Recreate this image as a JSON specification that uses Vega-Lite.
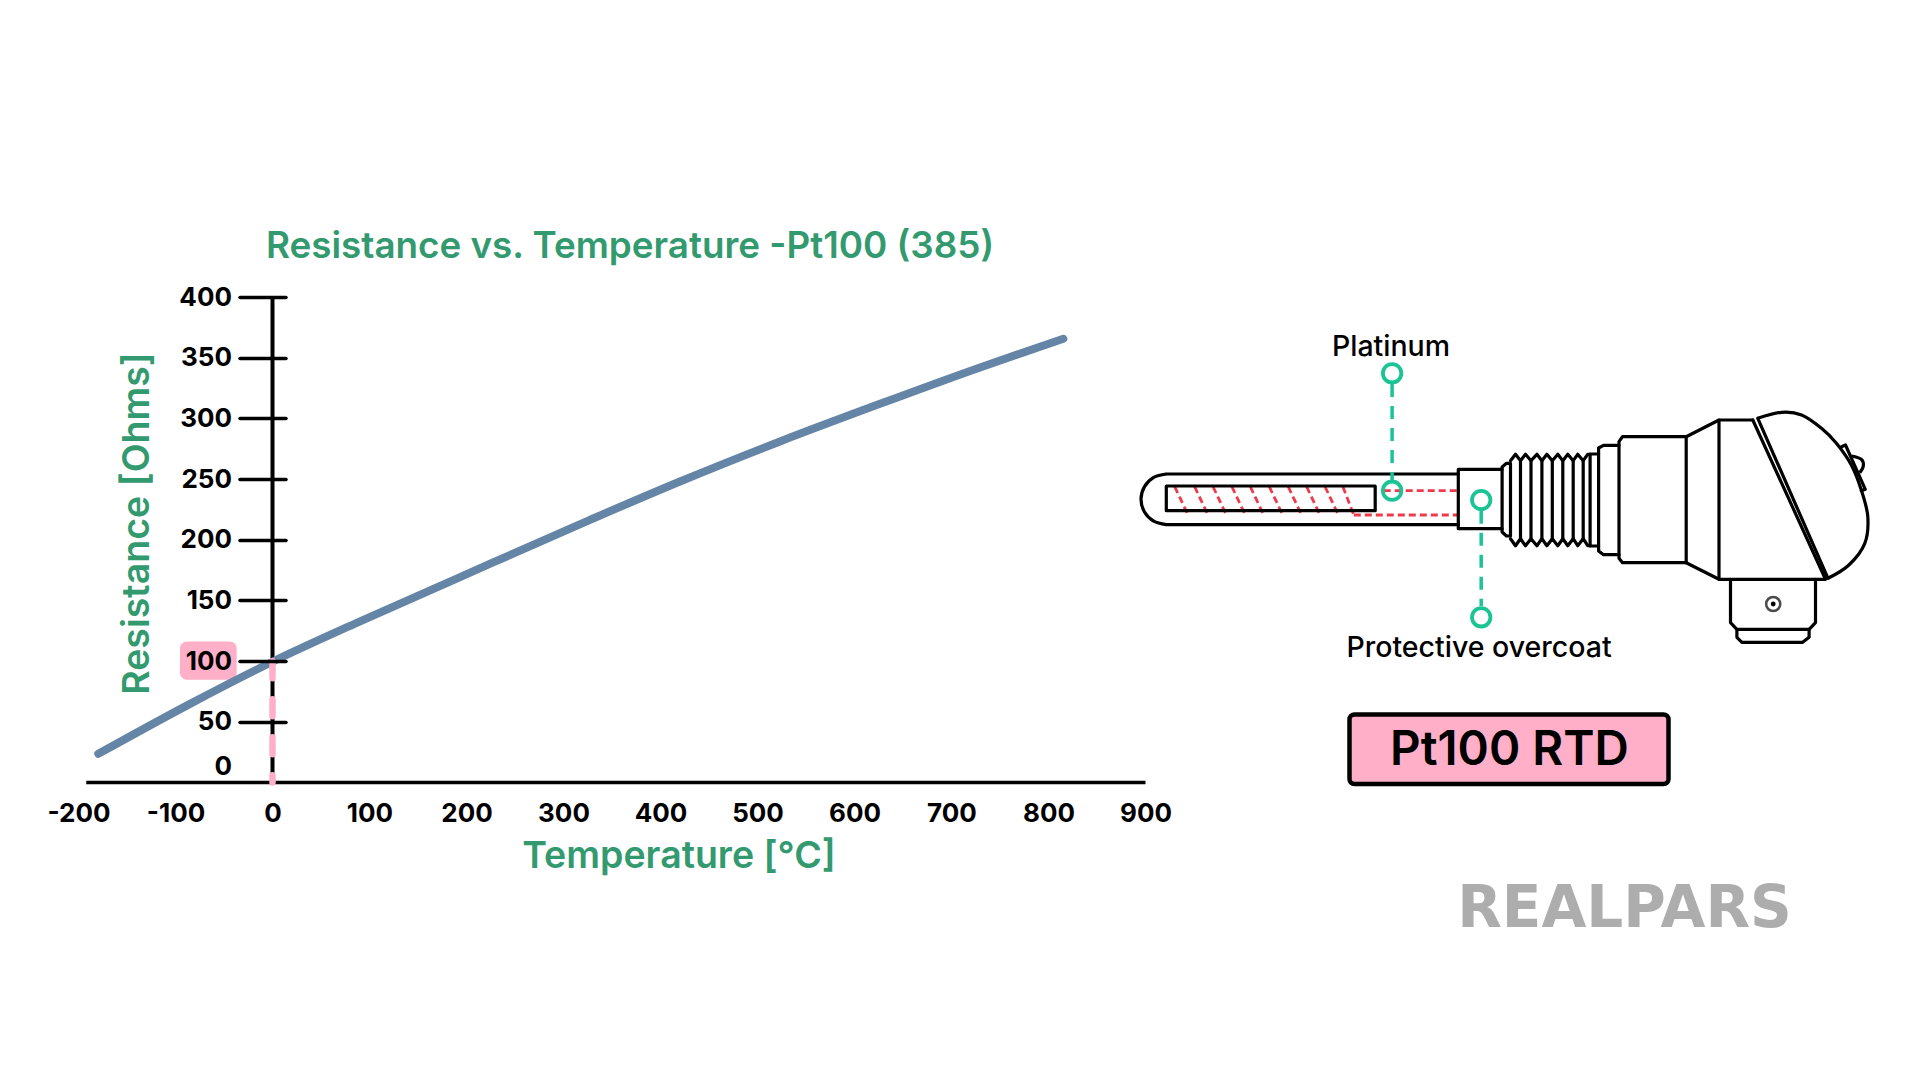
{
  "$schema": "https://vega.github.io/schema/vega-lite/v6.json",
  "autosize": {"type": "none"},
  "padding": {"left": 78.5, "top": 297, "right": 1841.5, "bottom": 783},
  "background": "white",
  "bounds": "flush",
  "spacing": 0,
  "config": {"view": {"stroke": null}, "font": "Inter"},
  "datasets": {
    "curve": [
      {"temperature": -179.6, "resistance": 23.6},
      {"temperature": -85, "resistance": 64.8},
      {"temperature": 0, "resistance": 99.5},
      {"temperature": 86.8, "resistance": 131.5},
      {"temperature": 189.9, "resistance": 168},
      {"temperature": 327.3, "resistance": 216.4},
      {"temperature": 420.1, "resistance": 248},
      {"temperature": 523.2, "resistance": 281},
      {"temperature": 626.3, "resistance": 312},
      {"temperature": 729.4, "resistance": 342},
      {"temperature": 815.3, "resistance": 365.6}
    ],
    "outline": [
      {"part": "sheathTop", "x": 312.8, "y": 177}, {"part": "sheathTop", "x": 20.8, "y": 177},
      {"part": "sheathBottom", "x": 20.8, "y": 227.7}, {"part": "sheathBottom", "x": 312.8, "y": 227.7},
      {"part": "element", "x": 20.8, "y": 189}, {"part": "element", "x": 229.7, "y": 189}, {"part": "element", "x": 229.7, "y": 213.7}, {"part": "element", "x": 20.8, "y": 213.7}, {"part": "element", "x": 20.8, "y": 189},
      {"part": "collar", "x": 312.8, "y": 172.3}, {"part": "collar", "x": 356.6, "y": 172.3}, {"part": "collar", "x": 356.6, "y": 231.7}, {"part": "collar", "x": 312.8, "y": 231.7}, {"part": "collar", "x": 312.8, "y": 172.3},
      {"part": "step", "x": 356.6, "y": 172.3}, {"part": "step", "x": 356.6, "y": 170}, {"part": "step", "x": 361, "y": 166.3}, {"part": "step", "x": 365, "y": 166.3}, {"part": "step", "x": 365, "y": 239}, {"part": "step", "x": 361, "y": 239}, {"part": "step", "x": 356.6, "y": 235}, {"part": "step", "x": 356.6, "y": 231.7},
      {"part": "threadTop", "x": 365, "y": 163.7}, {"part": "threadTop", "x": 370, "y": 157.3}, {"part": "threadTop", "x": 375, "y": 163.7}, {"part": "threadTop", "x": 380, "y": 157.3}, {"part": "threadTop", "x": 385.5, "y": 163.7}, {"part": "threadTop", "x": 391.4, "y": 157.3}, {"part": "threadTop", "x": 396.4, "y": 163.7}, {"part": "threadTop", "x": 401.4, "y": 157.3}, {"part": "threadTop", "x": 406.8, "y": 163.7}, {"part": "threadTop", "x": 412.3, "y": 157.3}, {"part": "threadTop", "x": 417.3, "y": 163.7}, {"part": "threadTop", "x": 422.3, "y": 157.3}, {"part": "threadTop", "x": 427.7, "y": 163.7}, {"part": "threadTop", "x": 432.2, "y": 157.3}, {"part": "threadTop", "x": 437.7, "y": 163.7}, {"part": "threadTop", "x": 442.2, "y": 157.3}, {"part": "threadTop", "x": 444.6, "y": 157.3},
      {"part": "threadBottom", "x": 365, "y": 241.7}, {"part": "threadBottom", "x": 370, "y": 248.7}, {"part": "threadBottom", "x": 375, "y": 241.7}, {"part": "threadBottom", "x": 380, "y": 248.7}, {"part": "threadBottom", "x": 385.5, "y": 241.7}, {"part": "threadBottom", "x": 391.4, "y": 248.7}, {"part": "threadBottom", "x": 396.4, "y": 241.7}, {"part": "threadBottom", "x": 401.4, "y": 248.7}, {"part": "threadBottom", "x": 406.8, "y": 241.7}, {"part": "threadBottom", "x": 412.3, "y": 248.7}, {"part": "threadBottom", "x": 417.3, "y": 241.7}, {"part": "threadBottom", "x": 422.3, "y": 248.7}, {"part": "threadBottom", "x": 427.7, "y": 241.7}, {"part": "threadBottom", "x": 432.2, "y": 248.7}, {"part": "threadBottom", "x": 437.7, "y": 241.7}, {"part": "threadBottom", "x": 442.2, "y": 248.7}, {"part": "threadBottom", "x": 444.6, "y": 248.7},
      {"part": "v1", "x": 375, "y": 163.7}, {"part": "v1", "x": 375, "y": 241.7},
      {"part": "v2", "x": 385.5, "y": 163.7}, {"part": "v2", "x": 385.5, "y": 241.7},
      {"part": "v3", "x": 396.4, "y": 163.7}, {"part": "v3", "x": 396.4, "y": 241.7},
      {"part": "v4", "x": 406.8, "y": 163.7}, {"part": "v4", "x": 406.8, "y": 241.7},
      {"part": "v5", "x": 417.3, "y": 163.7}, {"part": "v5", "x": 417.3, "y": 241.7},
      {"part": "v6", "x": 427.7, "y": 163.7}, {"part": "v6", "x": 427.7, "y": 241.7},
      {"part": "v7", "x": 437.7, "y": 163.7}, {"part": "v7", "x": 437.7, "y": 241.7},
      {"part": "nut", "x": 444.6, "y": 157}, {"part": "nut", "x": 453.1, "y": 157}, {"part": "nut", "x": 453.1, "y": 249}, {"part": "nut", "x": 444.6, "y": 249}, {"part": "nut", "x": 444.6, "y": 157},
      {"part": "neckTop", "x": 453.1, "y": 157}, {"part": "neckTop", "x": 453.1, "y": 151}, {"part": "neckTop", "x": 458, "y": 148.3}, {"part": "neckTop", "x": 473.5, "y": 148.3},
      {"part": "neckBottom", "x": 453.1, "y": 249}, {"part": "neckBottom", "x": 453.1, "y": 254}, {"part": "neckBottom", "x": 458, "y": 257.7}, {"part": "neckBottom", "x": 473.5, "y": 257.7},
      {"part": "body", "x": 540.7, "y": 139.7}, {"part": "body", "x": 477, "y": 139.7}, {"part": "body", "x": 473.5, "y": 144.7}, {"part": "body", "x": 473.5, "y": 261.3}, {"part": "body", "x": 477, "y": 265.7}, {"part": "body", "x": 540.7, "y": 265.7}, {"part": "body", "x": 540.7, "y": 139.7},
      {"part": "cone", "x": 607.3, "y": 123}, {"part": "cone", "x": 573.5, "y": 123}, {"part": "cone", "x": 540.7, "y": 139.7},
      {"part": "coneLow", "x": 540.7, "y": 265.7}, {"part": "coneLow", "x": 573.5, "y": 282.3}, {"part": "coneLow", "x": 680, "y": 282.3}, {"part": "coneLow", "x": 607.3, "y": 123},
      {"part": "housing", "x": 573.5, "y": 123}, {"part": "housing", "x": 573.5, "y": 282.3},
      {"part": "lid", "x": 612.3, "y": 121.3}, {"part": "lid", "x": 682.5, "y": 281.3},
      {"part": "clip", "x": 696, "y": 149.7}, {"part": "clip", "x": 700, "y": 148}, {"part": "clip", "x": 719.8, "y": 192.3}, {"part": "clip", "x": 715.8, "y": 193.7},
      {"part": "foot", "x": 585, "y": 282.3}, {"part": "foot", "x": 585, "y": 325.7}, {"part": "foot", "x": 591.4, "y": 332.3}, {"part": "foot", "x": 663.6, "y": 332.3}, {"part": "foot", "x": 670, "y": 325.7}, {"part": "foot", "x": 670, "y": 282.3},
      {"part": "plug", "x": 591.4, "y": 332.3}, {"part": "plug", "x": 591.4, "y": 340.3}, {"part": "plug", "x": 596.4, "y": 345.3}, {"part": "plug", "x": 657.1, "y": 345.3}, {"part": "plug", "x": 663.6, "y": 340.3}, {"part": "plug", "x": 663.6, "y": 332.3}
    ],
    "arcs": [
      {"part": "bulb", "x": 20.8, "y": 177}, {"part": "bulb", "x": 8.2, "y": 180.4}, {"part": "bulb", "x": -1, "y": 189.6}, {"part": "bulb", "x": -4.5, "y": 202.3}, {"part": "bulb", "x": -1, "y": 215}, {"part": "bulb", "x": 8.2, "y": 224.2}, {"part": "bulb", "x": 20.8, "y": 227.7},
      {"part": "head", "x": 612.3, "y": 121.3}, {"part": "head", "x": 636.2, "y": 115.3}, {"part": "head", "x": 656.1, "y": 118}, {"part": "head", "x": 676, "y": 131.3}, {"part": "head", "x": 690.9, "y": 146.3}, {"part": "head", "x": 705.8, "y": 168}, {"part": "head", "x": 715.8, "y": 193}, {"part": "head", "x": 722.3, "y": 219.7}, {"part": "head", "x": 719.3, "y": 246.3}, {"part": "head", "x": 703.4, "y": 268}, {"part": "head", "x": 682.5, "y": 281.3},
      {"part": "knob", "x": 705.8, "y": 159}, {"part": "knob", "x": 715.8, "y": 162.3}, {"part": "knob", "x": 717.8, "y": 169}, {"part": "knob", "x": 714.3, "y": 175.7}
    ],
    "wire": [
      {"part": "top", "x": 238.2, "y": 193.7}, {"part": "top", "x": 312.8, "y": 193.7},
      {"part": "bottom", "x": 208.3, "y": 218}, {"part": "bottom", "x": 312.8, "y": 218},
      {"part": "h1", "x": 29.2, "y": 189.7}, {"part": "h1", "x": 43.1, "y": 219},
      {"part": "h2", "x": 49.1, "y": 189.7}, {"part": "h2", "x": 63, "y": 219},
      {"part": "h3", "x": 67.5, "y": 189.7}, {"part": "h3", "x": 81.4, "y": 219},
      {"part": "h4", "x": 86.4, "y": 189.7}, {"part": "h4", "x": 100.3, "y": 219},
      {"part": "h5", "x": 104.8, "y": 189.7}, {"part": "h5", "x": 118.7, "y": 219},
      {"part": "h6", "x": 123.8, "y": 189.7}, {"part": "h6", "x": 137.7, "y": 219},
      {"part": "h7", "x": 142.7, "y": 189.7}, {"part": "h7", "x": 156.6, "y": 219},
      {"part": "h8", "x": 161.1, "y": 189.7}, {"part": "h8", "x": 175, "y": 219},
      {"part": "h9", "x": 179.5, "y": 189.7}, {"part": "h9", "x": 193.4, "y": 219},
      {"part": "h10", "x": 197.4, "y": 189.7}, {"part": "h10", "x": 208.3, "y": 218}
    ],
    "leaders": [
      {"part": "platinum", "x": 246.6, "y": 87}, {"part": "platinum", "x": 246.6, "y": 183},
      {"part": "overcoat", "x": 335.7, "y": 213.7}, {"part": "overcoat", "x": 335.7, "y": 309}
    ],
    "markers": [
      {"x": 246.6, "y": 76.3}, {"x": 246.6, "y": 193.7}, {"x": 335.7, "y": 203}, {"x": 335.7, "y": 320.3}
    ],
    "callouts": [
      {"label": "Platinum", "x": 245.5, "y": 50},
      {"label": "Protective overcoat", "x": 333.5, "y": 351}
    ]
  },
  "hconcat": [
    {
      "width": 1067,
      "height": 485.5,
      "title": {
        "text": "Resistance vs. Temperature -Pt100 (385)",
        "anchor": "middle",
        "frame": "group",
        "dx": 18,
        "offset": 18.5,
        "font": "Inter",
        "fontSize": 36.8,
        "fontWeight": 600,
        "color": "#339a6f"
      },
      "layer": [
        {
          "data": {"values": [{"x": -95.4, "x2": -36.9, "y": 84.6, "y2": 116.1}]},
          "mark": {"type": "rect", "color": "#ffb0c8", "cornerRadius": 7},
          "encoding": {
            "x": {
              "field": "x",
              "type": "quantitative",
              "scale": {"domain": [-200, 900], "nice": false, "zero": false},
              "axis": {
                "title": "Temperature [°C]",
                "titleFont": "Inter",
                "titleFontSize": 37.5,
                "titleFontWeight": 600,
                "titleColor": "#339a6f",
                "titleX": 600,
                "titleY": 74,
                "titleBaseline": "middle",
                "values": [-200, -100, 0, 100, 200, 300, 400, 500, 600, 700, 800, 900],
                "labelExpr": "'' + datum.value",
                "domain": false,
                "grid": false,
                "ticks": false,
                "labelFlush": false,
                "labelPadding": 18,
                "labelFont": "Inter",
                "labelFontSize": 26,
                "labelFontWeight": 700,
                "labelColor": "black"
              }
            },
            "x2": {"field": "x2"},
            "y": {
              "field": "y",
              "type": "quantitative",
              "scale": {"domain": [0, 400], "nice": false},
              "axis": {
                "title": "Resistance [Ohms]",
                "titleFont": "Inter",
                "titleFontSize": 37.5,
                "titleFontWeight": 600,
                "titleColor": "#339a6f",
                "titleAngle": 270,
                "titleX": -148,
                "titleY": 226,
                "titleAlign": "center",
                "titleBaseline": "middle",
                "offset": -207,
                "zindex": 1,
                "values": [0, 50, 100, 150, 200, 250, 300, 350, 400],
                "domain": false,
                "grid": false,
                "tickSize": 46,
                "tickWidth": 3.5,
                "tickCap": "round",
                "tickColor": "black",
                "tickOpacity": {"condition": {"test": "datum.value === 0", "value": 0}, "value": 1},
                "labelOffset": {"condition": {"test": "datum.value === 0", "value": -16}, "value": 0},
                "labelPadding": 8,
                "labelFont": "Inter",
                "labelFontSize": 26,
                "labelFontWeight": 700,
                "labelColor": "black"
              }
            },
            "y2": {"field": "y2"}
          }
        },
        {
          "data": {"values": [{"x": -192, "x2": 900, "y": 0}]},
          "mark": {"type": "rule", "color": "black", "strokeWidth": 3.5},
          "encoding": {
            "x": {"field": "x", "type": "quantitative"},
            "x2": {"field": "x2"},
            "y": {"field": "y", "type": "quantitative"}
          }
        },
        {
          "data": {"values": [{"x": 0, "y": 0, "y2": 400}]},
          "mark": {"type": "rule", "color": "black", "strokeWidth": 4},
          "encoding": {
            "x": {"field": "x", "type": "quantitative"},
            "y": {"field": "y", "type": "quantitative"},
            "y2": {"field": "y2"}
          }
        },
        {
          "data": {"name": "curve"},
          "mark": {"type": "line", "color": "#6585a7", "strokeWidth": 8, "strokeCap": "round", "interpolate": "monotone"},
          "encoding": {
            "x": {"field": "temperature", "type": "quantitative"},
            "y": {"field": "resistance", "type": "quantitative"}
          }
        },
        {
          "data": {"values": [{"x": 0, "y": 100, "y2": 0}]},
          "mark": {"type": "rule", "color": "#ffb0c8", "strokeWidth": 6.5, "strokeCap": "round", "strokeDash": [17, 21]},
          "encoding": {
            "x": {"field": "x", "type": "quantitative"},
            "y": {"field": "y", "type": "quantitative"},
            "y2": {"field": "y2"}
          }
        }
      ]
    },
    {
      "width": 774.5,
      "height": 640,
      "encoding": {
        "x": {"field": "x", "type": "quantitative", "axis": null, "scale": {"domain": [0, 774.5], "nice": false, "zero": false}},
        "y": {"field": "y", "type": "quantitative", "axis": null, "scale": {"domain": [640, 0], "nice": false, "zero": false}}
      },
      "layer": [
        {
          "data": {"name": "wire"},
          "mark": {"type": "line", "color": "#ee3a4a", "strokeWidth": 2.8, "strokeDash": [7, 4]},
          "encoding": {"detail": {"field": "part"}, "order": {"value": null}}
        },
        {
          "data": {"name": "outline"},
          "mark": {"type": "line", "color": "black", "strokeWidth": 3.2, "strokeJoin": "round", "strokeCap": "round"},
          "encoding": {"detail": {"field": "part"}, "order": {"value": null}}
        },
        {
          "data": {"name": "arcs"},
          "mark": {"type": "line", "color": "black", "strokeWidth": 3.2, "interpolate": "cardinal"},
          "encoding": {"detail": {"field": "part"}, "order": {"value": null}}
        },
        {
          "data": {"values": [{"x": 627.7, "y": 307}]},
          "mark": {"type": "point", "shape": "circle", "color": "black", "size": 200, "strokeWidth": 2.5, "filled": false}
        },
        {
          "data": {"values": [{"x": 627.7, "y": 307}]},
          "mark": {"type": "point", "shape": "circle", "color": "black", "size": 24, "filled": true, "opacity": 1}
        },
        {
          "data": {"name": "leaders"},
          "mark": {"type": "line", "color": "#1bc494", "strokeWidth": 3.5, "strokeDash": [13, 9]},
          "encoding": {"detail": {"field": "part"}, "order": {"value": null}}
        },
        {
          "data": {"name": "markers"},
          "mark": {"type": "point", "shape": "circle", "color": "#1bc494", "size": 340, "strokeWidth": 3.8, "filled": false, "opacity": 1}
        },
        {
          "data": {"name": "callouts"},
          "mark": {"type": "text", "font": "Inter", "fontSize": 28.5, "fontWeight": 500, "color": "black"},
          "encoding": {"text": {"field": "label"}}
        },
        {
          "data": {"values": [{"x": 204, "x2": 523, "y": 417.5, "y2": 487}]},
          "mark": {"type": "rect", "fill": "#ffb0c8", "stroke": "black", "strokeWidth": 4.5, "cornerRadius": 5},
          "encoding": {"x2": {"field": "x2"}, "y2": {"field": "y2"}}
        },
        {
          "data": {"values": [{"label": "Pt100 RTD", "x": 364, "y": 454}]},
          "mark": {"type": "text", "font": "Inter", "fontSize": 47.5, "fontWeight": 600, "color": "black"},
          "encoding": {"text": {"field": "label"}}
        },
        {
          "data": {"values": [{"label": "REALPARS", "x": 479, "y": 613}]},
          "mark": {"type": "text", "font": "DejaVu Sans", "fontSize": 58, "fontWeight": 700, "color": "#adadad"},
          "encoding": {"text": {"field": "label"}}
        }
      ]
    }
  ]
}
